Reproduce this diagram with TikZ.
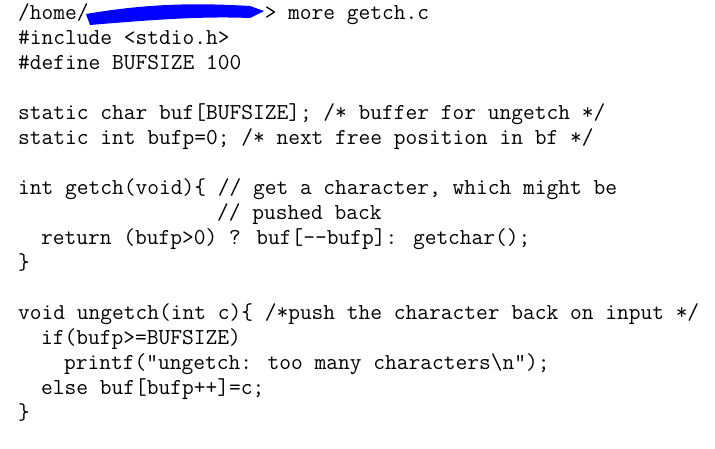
\documentclass[tikz,border=0pt]{standalone}
\begin{document}
\begin{tikzpicture}[x=1pt,y=-1pt,
  ln/.style={anchor=base west,inner sep=0pt,font=\fontsize{22.8}{24}\ttfamily}]
\useasboundingbox[fill=white] (0,0) rectangle (715,448);
\node[ln] (l1) at (18,19) {/home/\hphantom{XXXXXXXXXXXXXXX}> more getch.c};
\fill[blue] (86,14) .. controls (150,3) and (200,3) .. (250,6) -- (264,11) -- (250,18) .. controls (200,16) and (150,20) .. (90,25) -- cycle;
\node[ln] (l2) at (18,44) {\#include <stdio.h>};
\node[ln] (l3) at (18,69) {\#define BUFSIZE 100};
\node[ln] (l4) at (18,119) {static char buf[BUFSIZE]; /* buffer for ungetch */};
\node[ln] (l5) at (18,144) {static int bufp=0; /* next free position in bf */};
\node[ln] (l6) at (18,194) {int getch(void)\{ // get a character, which might be};
\node[ln] (l7) at (217,219) {// pushed back};
\node[ln] (l8) at (41,244) {return (bufp>0) ? buf[-{}-bufp]: getchar();};
\node[ln] (l9) at (18,269) {\}};
\node[ln] (l10) at (18,319) {void ungetch(int c)\{ /*push the character back on input */};
\node[ln] (l11) at (41,344) {if(bufp>=BUFSIZE)};
\node[ln] (l12) at (64,369) {printf("ungetch: too many characters\textbackslash n");};
\node[ln] (l13) at (41,394) {else buf[bufp++]=c;};
\node[ln] (l14) at (18,419) {\}};
\end{tikzpicture}
\end{document}
